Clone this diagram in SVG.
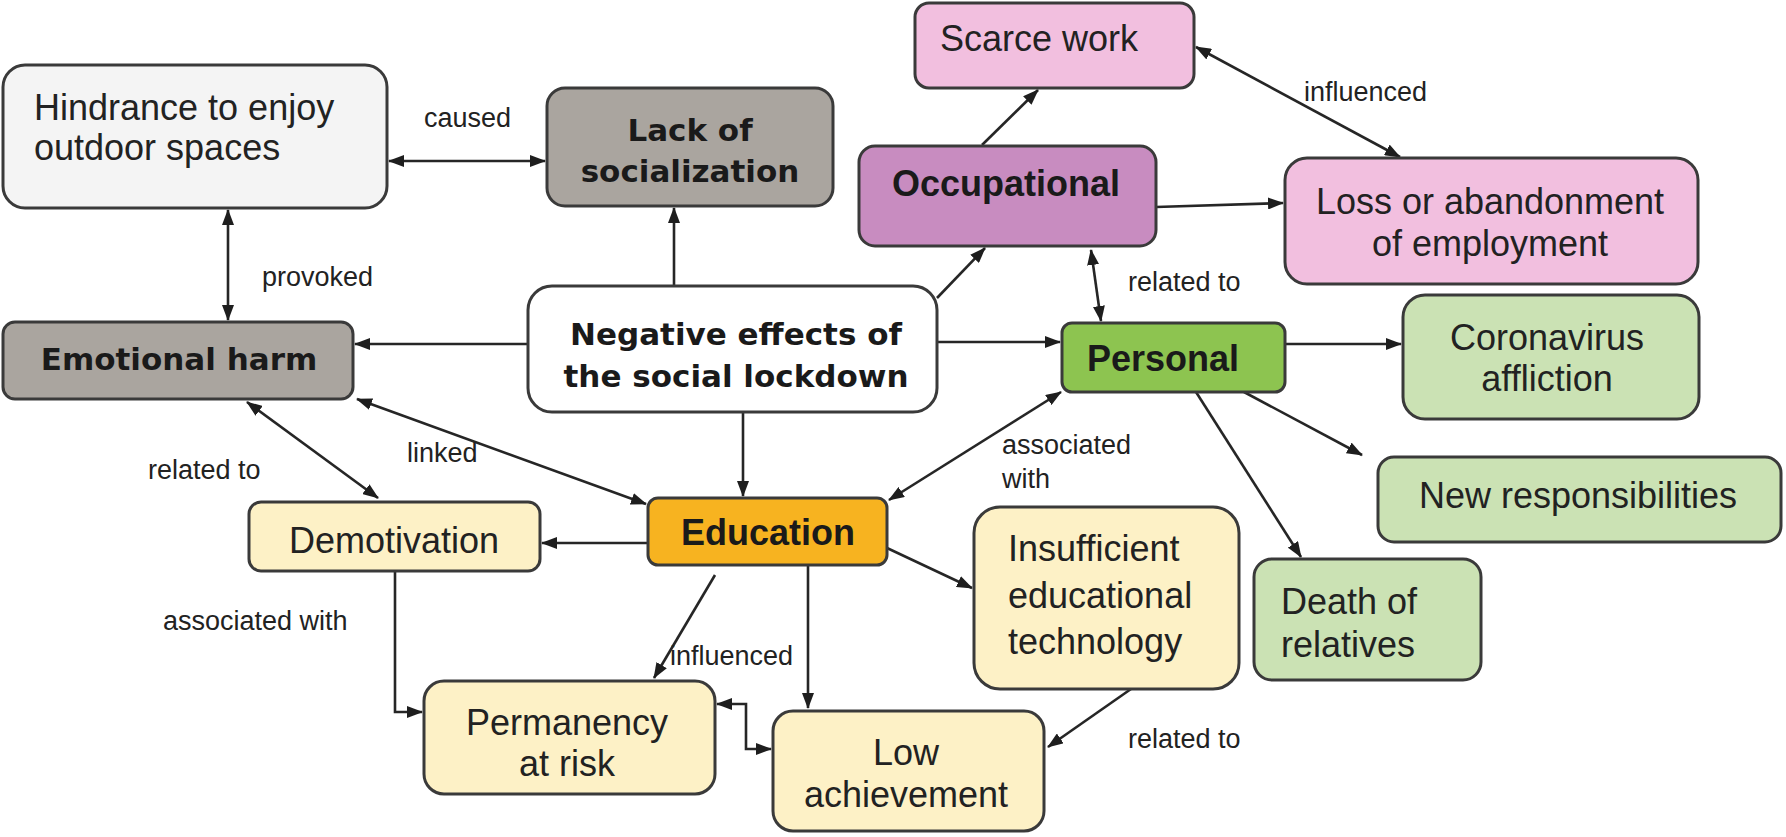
<svg xmlns="http://www.w3.org/2000/svg" width="1786" height="837" viewBox="0 0 1786 837">
<defs>
<marker id="arr" viewBox="0 0 16 12" refX="15" refY="6" markerWidth="16" markerHeight="12" markerUnits="userSpaceOnUse" orient="auto-start-reverse">
<path d="M0,0 L16,6 L0,12 z" fill="#1e1e1e"/>
</marker>
<style>
.box{stroke:#3a3a3a;stroke-width:3}
.t{font-family:"Liberation Sans",Arial,sans-serif;font-size:36px;fill:#222}
.b{font-family:"Liberation Sans",Arial,sans-serif;font-size:36px;font-weight:bold;fill:#1a1a1a}
.v{font-family:"DejaVu Sans",Verdana,sans-serif;font-size:31px;font-weight:bold;fill:#1a1a1a}
.l{font-family:"Liberation Sans",Arial,sans-serif;font-size:27px;fill:#222}
.c{text-anchor:middle}
.e{fill:none;stroke:#262626;stroke-width:2.6}
.grey{fill:#aaa59f}.pink{fill:#f2bfdf}.purple{fill:#c88cc0}.green{fill:#8dc450}.lgreen{fill:#cbe2b4}.orange{fill:#f7b320}.yellow{fill:#fdf1c6}
</style>
</defs>
<rect width="1786" height="837" fill="#ffffff"/>
<g id="connectors">
<line class="e" x1="389" y1="161" x2="545" y2="161" marker-start="url(#arr)" marker-end="url(#arr)"/>
<line class="e" x1="228" y1="210" x2="228" y2="320" marker-start="url(#arr)" marker-end="url(#arr)"/>
<line class="e" x1="674" y1="286" x2="674" y2="208" marker-end="url(#arr)"/>
<line class="e" x1="528" y1="344" x2="355" y2="344" marker-end="url(#arr)"/>
<line class="e" x1="937" y1="298" x2="985" y2="248" marker-end="url(#arr)"/>
<line class="e" x1="937" y1="342" x2="1060" y2="342" marker-end="url(#arr)"/>
<line class="e" x1="743" y1="412" x2="743" y2="496" marker-end="url(#arr)"/>
<line class="e" x1="982" y1="145" x2="1038" y2="90" marker-end="url(#arr)"/>
<line class="e" x1="1156" y1="207" x2="1283" y2="203" marker-end="url(#arr)"/>
<line class="e" x1="1196" y1="47" x2="1400" y2="157" marker-start="url(#arr)" marker-end="url(#arr)"/>
<line class="e" x1="1091" y1="250" x2="1101" y2="321" marker-start="url(#arr)" marker-end="url(#arr)"/>
<line class="e" x1="1285" y1="344" x2="1401" y2="344" marker-end="url(#arr)"/>
<line class="e" x1="1244" y1="392" x2="1362" y2="455" marker-end="url(#arr)"/>
<line class="e" x1="1196" y1="392" x2="1301" y2="557" marker-end="url(#arr)"/>
<line class="e" x1="1061" y1="392" x2="889" y2="500" marker-start="url(#arr)" marker-end="url(#arr)"/>
<line class="e" x1="357" y1="399" x2="646" y2="504" marker-start="url(#arr)" marker-end="url(#arr)"/>
<line class="e" x1="247" y1="402" x2="378" y2="498" marker-start="url(#arr)" marker-end="url(#arr)"/>
<line class="e" x1="648" y1="543" x2="542" y2="543" marker-end="url(#arr)"/>
<line class="e" x1="887" y1="548" x2="972" y2="588" marker-end="url(#arr)"/>
<line class="e" x1="715" y1="575" x2="654" y2="678" marker-end="url(#arr)"/>
<line class="e" x1="808" y1="565" x2="808" y2="708" marker-end="url(#arr)"/>
<polyline class="e" points="395,571 395,712 422,712" marker-end="url(#arr)"/>
<polyline class="e" points="717,704 746,704 746,749 771,749" marker-start="url(#arr)" marker-end="url(#arr)"/>
<line class="e" x1="1131" y1="689" x2="1048" y2="747" marker-end="url(#arr)"/>
<text class="l" x="424" y="127">caused</text>
<text class="l" x="262" y="286">provoked</text>
<text class="l" x="1304" y="101">influenced</text>
<text class="l" x="1128" y="291">related to</text>
<text class="l" x="1002" y="454">associated</text>
<text class="l" x="1002" y="488">with</text>
<text class="l" x="407" y="462">linked</text>
<text class="l" x="148" y="479">related to</text>
<text class="l" x="670" y="665">influenced</text>
<text class="l" x="163" y="630">associated with</text>
<text class="l" x="1128" y="748">related to</text>
</g>
<g id="hindrance">
<rect class="box" x="3" y="65" width="384" height="143" rx="22" fill="#f4f4f4"/>
<text class="t" x="34" y="120">Hindrance to enjoy</text>
<text class="t" x="34" y="160">outdoor spaces</text>
</g>
<g id="lack-socialization">
<rect class="box grey" x="547" y="88" width="286" height="118" rx="18"/>
<text class="v c" x="690" y="141">Lack of</text>
<text class="v c" x="690" y="182">socialization</text>
</g>
<g id="scarce-work">
<rect class="box pink" x="915" y="3" width="279" height="85" rx="14"/>
<text class="t" x="940" y="51">Scarce work</text>
</g>
<g id="occupational">
<rect class="box purple" x="859" y="146" width="297" height="100" rx="16"/>
<text class="b c" x="1006" y="196">Occupational</text>
</g>
<g id="loss-employment">
<rect class="box pink" x="1285" y="158" width="413" height="126" rx="22"/>
<text class="t c" x="1490" y="214">Loss or abandonment</text>
<text class="t c" x="1490" y="256">of employment</text>
</g>
<g id="negative-effects">
<rect class="box" x="528" y="286" width="409" height="126" rx="24" fill="#ffffff"/>
<text class="v c" x="736" y="345">Negative effects of</text>
<text class="v c" x="736" y="387">the social lockdown</text>
</g>
<g id="emotional-harm">
<rect class="box grey" x="3" y="322" width="350" height="77" rx="12"/>
<text class="v c" x="179" y="370">Emotional harm</text>
</g>
<g id="personal">
<rect class="box green" x="1062" y="323" width="223" height="69" rx="10"/>
<text class="b c" x="1163" y="371">Personal</text>
</g>
<g id="coronavirus">
<rect class="box lgreen" x="1403" y="295" width="296" height="124" rx="22"/>
<text class="t c" x="1547" y="350">Coronavirus</text>
<text class="t c" x="1547" y="391">affliction</text>
</g>
<g id="new-responsibilities">
<rect class="box lgreen" x="1378" y="457" width="403" height="85" rx="16"/>
<text class="t c" x="1578" y="508">New responsibilities</text>
</g>
<g id="education">
<rect class="box orange" x="648" y="498" width="239" height="67" rx="10"/>
<text class="b c" x="768" y="545">Education</text>
</g>
<g id="demotivation">
<rect class="box yellow" x="249" y="502" width="291" height="69" rx="12"/>
<text class="t c" x="394" y="553">Demotivation</text>
</g>
<g id="insufficient-tech">
<rect class="box yellow" x="974" y="507" width="265" height="182" rx="26"/>
<text class="t" x="1008" y="561">Insufficient</text>
<text class="t" x="1008" y="608">educational</text>
<text class="t" x="1008" y="654">technology</text>
</g>
<g id="death-relatives">
<rect class="box lgreen" x="1254" y="559" width="227" height="121" rx="18"/>
<text class="t" x="1281" y="614">Death of</text>
<text class="t" x="1281" y="657">relatives</text>
</g>
<g id="permanency">
<rect class="box yellow" x="424" y="681" width="291" height="113" rx="20"/>
<text class="t c" x="567" y="735">Permanency</text>
<text class="t c" x="567" y="776">at risk</text>
</g>
<g id="low-achievement">
<rect class="box yellow" x="773" y="711" width="271" height="120" rx="20"/>
<text class="t c" x="906" y="765">Low</text>
<text class="t c" x="906" y="807">achievement</text>
</g>
</svg>
